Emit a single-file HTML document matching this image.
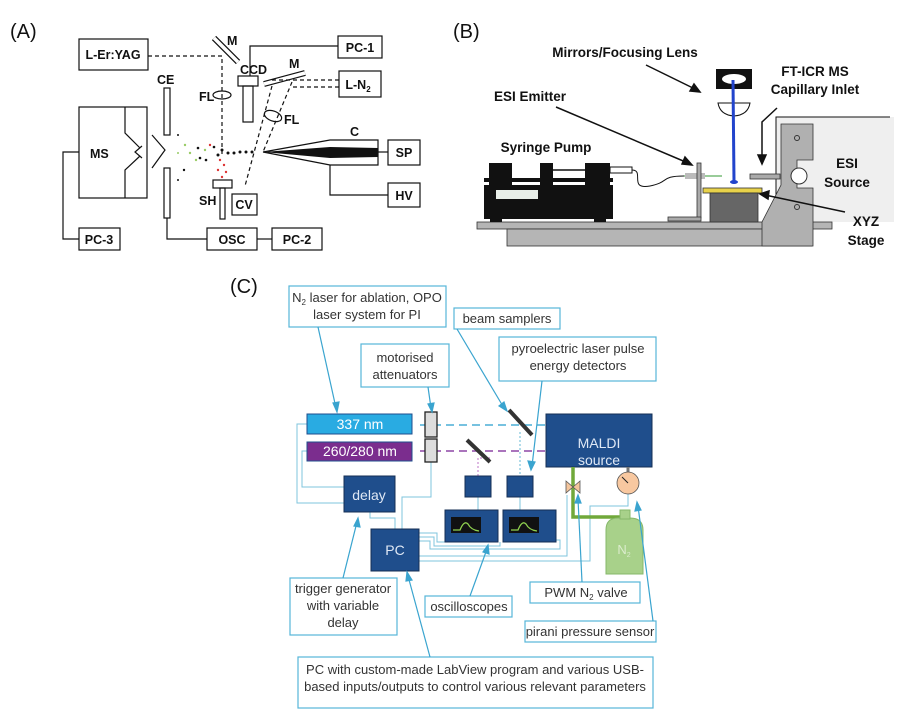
<!DOCTYPE html>
<html><head><meta charset="utf-8"><style>
html,body{margin:0;padding:0;background:#fff;}
svg{display:block;}
.a{font-family:"Liberation Sans",sans-serif;font-weight:bold;font-size:12.5px;fill:#111;}
.b{font-family:"Liberation Sans",sans-serif;font-weight:bold;font-size:13.5px;fill:#111;}
.c{font-family:"Liberation Sans",sans-serif;font-size:13px;fill:#333;}
</style></head><body>
<svg width="918" height="723" viewBox="0 0 918 723" xmlns="http://www.w3.org/2000/svg">
<rect width="918" height="723" fill="#fff"/>
<!-- ===== Panel A ===== -->
<text x="10" y="38" font-family="Liberation Sans,sans-serif" font-size="20" fill="#111">(A)</text>
<g fill="none" stroke="#111" stroke-width="1.2">
<rect x="79" y="39" width="69" height="31"/>
<rect x="338" y="36" width="44" height="22"/>
<rect x="339" y="71" width="42" height="26"/>
<rect x="79" y="107" width="68" height="91"/>
<rect x="388" y="140" width="32" height="25"/>
<rect x="388" y="183" width="32" height="24"/>
<rect x="79" y="228" width="41" height="22"/>
<rect x="207" y="228" width="50" height="22"/>
<rect x="272" y="228" width="50" height="22"/>
<rect x="232" y="194" width="25" height="21"/>
<rect x="238" y="76" width="20" height="10"/>
<rect x="243" y="86" width="10" height="36"/>
<rect x="213" y="180" width="19" height="8"/>
<rect x="220" y="188" width="5" height="31"/>
<rect x="164" y="88" width="6" height="47"/>
<rect x="164" y="168" width="6" height="50"/>
<polyline points="338,46 250,46 250,76"/>
<polyline points="125,107 125,133 140,148"/>
<polyline points="125,198 125,170 140,156"/>
<polyline points="142,146 135,152 142,158"/>
<polyline points="152,135 165,150 152,168"/>
<polyline points="79,152 63,152 63,239 79,239"/>
<polyline points="167,218 167,239 207,239"/>
<line x1="257" y1="239" x2="272" y2="239"/>
<polyline points="330,165 330,195 388,195"/>
<line x1="378" y1="152" x2="388" y2="152"/>
<polyline points="263,152 330,140 378,140 378,165 330,165 263,152"/>
<ellipse cx="222" cy="95" rx="9" ry="4"/>
<ellipse cx="273" cy="116" rx="9" ry="5" transform="rotate(20 273 116)"/>
</g>
<polygon points="263,152 330,147 378,148 378,157 330,158" fill="#111"/>
<line x1="214" y1="38" x2="238" y2="62" stroke="#111" stroke-width="6"/>
<line x1="214" y1="38" x2="238" y2="62" stroke="#fff" stroke-width="3.5"/>
<line x1="264" y1="84" x2="305" y2="73" stroke="#111" stroke-width="6"/>
<line x1="264" y1="84" x2="305" y2="73" stroke="#fff" stroke-width="3.5"/>
<g fill="none" stroke="#111" stroke-width="1.2" stroke-dasharray="4,3">
<polyline points="148,56 222,56 222,155"/>
<line x1="339" y1="80" x2="272" y2="80"/>
<line x1="339" y1="87" x2="292" y2="87"/>
<line x1="272" y1="86" x2="245" y2="186"/>
<line x1="292" y1="82" x2="263" y2="152"/>
</g>
<g fill="#111">
<circle cx="228" cy="153" r="1.5"/><circle cx="234" cy="153" r="1.5"/><circle cx="240" cy="152" r="1.5"/><circle cx="246" cy="152" r="1.5"/><circle cx="252" cy="152" r="1.5"/>
<circle cx="198" cy="148" r="1.3"/><circle cx="200" cy="158" r="1.3"/><circle cx="206" cy="160" r="1.3"/><circle cx="218" cy="155" r="1.5"/><circle cx="222" cy="150" r="1.5"/>
<circle cx="178" cy="135" r="1"/><circle cx="184" cy="170" r="1.2"/><circle cx="178" cy="180" r="1"/><circle cx="214" cy="147" r="1.3"/>
</g>
<g fill="#d33"><circle cx="220" cy="160" r="1.2"/><circle cx="224" cy="165" r="1.2"/><circle cx="218" cy="170" r="1.2"/><circle cx="226" cy="172" r="1.2"/><circle cx="222" cy="177" r="1.2"/><circle cx="210" cy="145" r="1.2"/></g>
<g fill="#9c6"><circle cx="185" cy="145" r="1.2"/><circle cx="190" cy="153" r="1.2"/><circle cx="205" cy="150" r="1.2"/><circle cx="196" cy="160" r="1.2"/><circle cx="178" cy="153" r="1"/></g>
<text class="a" x="113" y="59" text-anchor="middle">L-Er:YAG</text>
<text class="a" x="360" y="52" text-anchor="middle">PC-1</text>
<text class="a" x="358" y="89" text-anchor="middle">L-N<tspan font-size="8" dy="3">2</tspan></text>
<text class="a" x="227" y="45">M</text>
<text class="a" x="289" y="68">M</text>
<text class="a" x="240" y="74">CCD</text>
<text class="a" x="157" y="84">CE</text>
<text class="a" x="199" y="101">FL</text>
<text class="a" x="284" y="124">FL</text>
<text class="a" x="350" y="136">C</text>
<text class="a" x="90" y="158">MS</text>
<text class="a" x="404" y="157" text-anchor="middle">SP</text>
<text class="a" x="404" y="200" text-anchor="middle">HV</text>
<text class="a" x="199" y="205">SH</text>
<text class="a" x="244" y="209" text-anchor="middle">CV</text>
<text class="a" x="99" y="244" text-anchor="middle">PC-3</text>
<text class="a" x="232" y="244" text-anchor="middle">OSC</text>
<text class="a" x="297" y="244" text-anchor="middle">PC-2</text>

<!-- ===== Panel B ===== -->
<text x="453" y="38" font-family="Liberation Sans,sans-serif" font-size="20" fill="#111">(B)</text>
<rect x="776" y="117" width="118" height="105" fill="#efefef"/>
<polyline points="890,117 776,117 776,222" fill="none" stroke="#111" stroke-width="1"/>
<rect x="477" y="222" width="355" height="7" fill="#b5b5b5" stroke="#333" stroke-width="0.8"/>
<rect x="507" y="229" width="305" height="17" fill="#b5b5b5" stroke="#333" stroke-width="0.8"/>
<polygon points="781,124 813,124 813,160 797,160 797,188 813,188 813,246 762,246 762,222 781,185" fill="#b0b0b0" stroke="#333" stroke-width="0.8"/>
<circle cx="797" cy="138" r="2.5" fill="none" stroke="#333"/>
<circle cx="799" cy="176" r="8" fill="#fff" stroke="#333"/>
<circle cx="797" cy="207" r="2.5" fill="none" stroke="#333"/>
<g fill="#111">
<rect x="484" y="185" width="129" height="34"/>
<rect x="489" y="163" width="23" height="22"/>
<rect x="540" y="163" width="13" height="22"/>
<rect x="585" y="163" width="25" height="22"/>
<rect x="484" y="178" width="129" height="4"/>
<rect x="490" y="217" width="12" height="5"/><rect x="594" y="217" width="12" height="5"/>
</g>
<rect x="496" y="190" width="42" height="9" fill="#e8eee8"/>
<line x1="553" y1="170" x2="585" y2="170" stroke="#111" stroke-width="1.5"/>
<rect x="610" y="167" width="22" height="6" fill="#fff" stroke="#111"/>
<path d="M632,170 C645,170 628,190 650,186 C670,182 660,176 684,176" fill="none" stroke="#111" stroke-width="1"/>
<line x1="684" y1="176" x2="722" y2="176" stroke="#9c9" stroke-width="2"/>
<rect x="685" y="173" width="20" height="6" fill="#bbb"/>
<rect x="697" y="163" width="4" height="55" fill="#aaa" stroke="#333" stroke-width="0.8"/>
<rect x="668" y="217" width="33" height="4" fill="#aaa" stroke="#333" stroke-width="0.8"/>
<rect x="750" y="174" width="30" height="5" fill="#aaa" stroke="#333" stroke-width="0.8"/>
<rect x="703" y="188" width="59" height="5" fill="#e8d24a" stroke="#333" stroke-width="0.8"/>
<rect x="710" y="193" width="48" height="29" fill="#666" stroke="#333" stroke-width="0.8"/>
<rect x="716" y="69" width="36" height="20" fill="#111"/>
<ellipse cx="734" cy="79" rx="12" ry="5" fill="#fff"/>
<path d="M718,103 L750,103 Q748,115 734,116 Q720,115 718,103 Z" fill="#fff" stroke="#111"/>
<line x1="733" y1="80" x2="734" y2="182" stroke="#2244cc" stroke-width="3"/>
<ellipse cx="734" cy="182" rx="4" ry="2" fill="#2244cc"/>
<g stroke="#111" stroke-width="1.5" fill="#111">
<line x1="646" y1="65" x2="697" y2="90"/><polygon points="700,92 690,91 694,84"/>
<line x1="556" y1="107" x2="688" y2="163"/><polygon points="692,165 682,164 685,157"/>
<polyline points="777,108 762,122 762,158" fill="none"/><polygon points="762,164 758,155 766,155"/>
<line x1="845" y1="212" x2="765" y2="195"/><polygon points="760,194 769,191 768,199"/>
</g>
<text class="b" x="625" y="57" text-anchor="middle">Mirrors/Focusing Lens</text>
<text class="b" x="530" y="101" text-anchor="middle">ESI Emitter</text>
<text class="b" x="815" y="76" text-anchor="middle">FT-ICR MS</text>
<text class="b" x="815" y="94" text-anchor="middle">Capillary Inlet</text>
<text class="b" x="546" y="152" text-anchor="middle">Syringe Pump</text>
<text class="b" x="847" y="168" text-anchor="middle">ESI</text>
<text class="b" x="847" y="187" text-anchor="middle">Source</text>
<text class="b" x="866" y="226" text-anchor="middle">XYZ</text>
<text class="b" x="866" y="245" text-anchor="middle">Stage</text>

<!-- ===== Panel C ===== -->
<text x="230" y="293" font-family="Liberation Sans,sans-serif" font-size="20" fill="#111">(C)</text>
<g fill="#fff" stroke="#56b6d8" stroke-width="1.2">
<rect x="289" y="286" width="157" height="41"/>
<rect x="454" y="308" width="106" height="21"/>
<rect x="361" y="344" width="88" height="43"/>
<rect x="499" y="337" width="157" height="44"/>
<rect x="290" y="578" width="107" height="57"/>
<rect x="425" y="596" width="87" height="21"/>
<rect x="530" y="582" width="110" height="21"/>
<rect x="525" y="621" width="131" height="21"/>
<rect x="298" y="657" width="355" height="51"/>
</g>
<text class="c" x="367" y="302" text-anchor="middle">N<tspan font-size="8" dy="3">2</tspan><tspan dy="-3"> laser for ablation, OPO</tspan></text>
<text class="c" x="367" y="319" text-anchor="middle">laser system for PI</text>
<text class="c" x="507" y="323" text-anchor="middle">beam samplers</text>
<text class="c" x="405" y="362" text-anchor="middle">motorised</text>
<text class="c" x="405" y="379" text-anchor="middle">attenuators</text>
<text class="c" x="578" y="353" text-anchor="middle">pyroelectric laser pulse</text>
<text class="c" x="578" y="370" text-anchor="middle">energy detectors</text>
<text class="c" x="343" y="593" text-anchor="middle">trigger generator</text>
<text class="c" x="343" y="610" text-anchor="middle">with variable</text>
<text class="c" x="343" y="627" text-anchor="middle">delay</text>
<text class="c" x="469" y="611" text-anchor="middle">oscilloscopes</text>
<text class="c" x="586" y="597" text-anchor="middle">PWM N<tspan font-size="8" dy="3">2</tspan><tspan dy="-3"> valve</tspan></text>
<text class="c" x="590" y="636" text-anchor="middle">pirani pressure sensor</text>
<text class="c" x="475" y="674" text-anchor="middle">PC with custom-made LabView program and various USB-</text>
<text class="c" x="475" y="691" text-anchor="middle">based inputs/outputs to control various relevant parameters</text>
<g fill="none" stroke="#7fc4dd" stroke-width="1">
<polyline points="307,424 297,424 297,503 344,503"/>
<polyline points="307,451 302,451 302,487 344,487"/>
<polyline points="431,462 431,497 402,497 402,529"/>
<polyline points="370,512 370,518 395,518 395,529"/>
<line x1="478" y1="497" x2="478" y2="510"/>
<line x1="520" y1="497" x2="520" y2="510"/>
<polyline points="419,533 437,533 437,542 445,542"/>
<polyline points="419,537 434,537 434,546 500,546 500,542"/>
<polyline points="419,541 430,541 430,549 560,549 560,540 556,540"/>
<polyline points="419,556 567,556 567,495"/>
<polyline points="419,561 590,561 590,506 628,506 628,494"/>
</g>
<g fill="none" stroke-width="1.2" stroke-dasharray="2,2">
<polyline points="490,458 478,458 478,476" stroke="#c98bd0"/>
<polyline points="520,432 520,476" stroke="#7fc4dd"/>
</g>
<g fill="none" stroke-width="1.6" stroke-dasharray="8,5">
<line x1="420" y1="425" x2="546" y2="425" stroke="#4aaed6"/>
<line x1="420" y1="451" x2="546" y2="451" stroke="#8e46a6"/>
</g>
<rect x="307" y="414" width="105" height="20" fill="#29abe2" stroke="#1f4e8c" stroke-width="1"/>
<rect x="307" y="442" width="105" height="19" fill="#7b2d8e" stroke="#1f4e8c" stroke-width="1"/>
<text x="360" y="429" text-anchor="middle" font-family="Liberation Sans,sans-serif" font-size="14" fill="#fff">337 nm</text>
<text x="360" y="456" text-anchor="middle" font-family="Liberation Sans,sans-serif" font-size="14" fill="#fff">260/280 nm</text>
<rect x="425" y="412" width="12" height="25" fill="#ddd" stroke="#222" stroke-width="1.3"/>
<rect x="425" y="439" width="12" height="23" fill="#ddd" stroke="#222" stroke-width="1.3"/>
<line x1="509" y1="410" x2="532" y2="435" stroke="#333" stroke-width="4"/>
<line x1="467" y1="440" x2="490" y2="462" stroke="#333" stroke-width="4"/>
<g fill="#1f4e8c" stroke="#152f55" stroke-width="1">
<rect x="546" y="414" width="106" height="53"/>
<rect x="344" y="476" width="51" height="36"/>
<rect x="465" y="476" width="26" height="21"/>
<rect x="507" y="476" width="26" height="21"/>
<rect x="445" y="510" width="53" height="32"/>
<rect x="503" y="510" width="53" height="32"/>
<rect x="371" y="529" width="48" height="42"/>
</g>
<rect x="451" y="517" width="30" height="16" fill="#111"/>
<rect x="509" y="517" width="30" height="16" fill="#111"/>
<path d="M453,530 L460,530 Q464,520 468,524 Q471,530 479,531" fill="none" stroke="#8fd14f" stroke-width="1.3"/>
<path d="M511,530 L518,530 Q522,520 526,524 Q529,530 537,531" fill="none" stroke="#8fd14f" stroke-width="1.3"/>
<text x="599" y="448" text-anchor="middle" font-family="Liberation Sans,sans-serif" font-size="14" fill="#dfe8f5">MALDI</text>
<text x="599" y="465" text-anchor="middle" font-family="Liberation Sans,sans-serif" font-size="14" fill="#dfe8f5">source</text>
<text x="369" y="500" text-anchor="middle" font-family="Liberation Sans,sans-serif" font-size="14" fill="#dfe8f5">delay</text>
<text x="395" y="555" text-anchor="middle" font-family="Liberation Sans,sans-serif" font-size="14" fill="#dfe8f5">PC</text>
<polyline points="573,467 573,517 620,517" fill="none" stroke="#70a83a" stroke-width="3.5"/>
<path d="M606,530 Q606,518 618,518 L630,518 Q643,518 643,530 L643,574 L606,574 Z" fill="#a8d18a" stroke="#86b86a"/>
<rect x="620" y="510" width="10" height="9" fill="#a8d18a" stroke="#86b86a"/>
<text x="624" y="554" text-anchor="middle" font-family="Liberation Sans,sans-serif" font-size="13" fill="#dbeccd">N<tspan font-size="7" dy="3">2</tspan></text>
<polygon points="566,481 573,487 566,493" fill="#f4c59c" stroke="#555" stroke-width="0.8"/>
<polygon points="580,481 573,487 580,493" fill="#f4c59c" stroke="#555" stroke-width="0.8"/>
<line x1="628" y1="467" x2="628" y2="472" stroke="#777" stroke-width="3"/>
<circle cx="628" cy="483" r="11" fill="#f8c8a0" stroke="#555" stroke-width="0.8"/>
<line x1="628" y1="483" x2="622" y2="477" stroke="#222" stroke-width="1"/>
<g stroke="#3aa4cf" stroke-width="1.2" fill="#3aa4cf">
<line x1="318" y1="327" x2="336" y2="408"/><polygon points="337,412 333,403 339,402"/>
<line x1="428" y1="387" x2="431" y2="408"/><polygon points="432,412 428,404 434,403"/>
<line x1="457" y1="329" x2="504" y2="408"/><polygon points="507,411 499,406 504,402"/>
<line x1="542" y1="381" x2="532" y2="466"/><polygon points="531,470 528,461 535,462"/>
<line x1="343" y1="578" x2="357" y2="522"/><polygon points="358,518 360,527 354,526"/>
<line x1="430" y1="657" x2="408" y2="576"/><polygon points="407,572 412,580 406,581"/>
<line x1="470" y1="596" x2="487" y2="549"/><polygon points="488,545 489,554 483,552"/>
<line x1="582" y1="582" x2="578" y2="499"/><polygon points="578,495 581,503 575,503"/>
<line x1="653" y1="621" x2="638" y2="506"/><polygon points="637,502 641,510 635,511"/>
</g>
</svg>
</body></html>
